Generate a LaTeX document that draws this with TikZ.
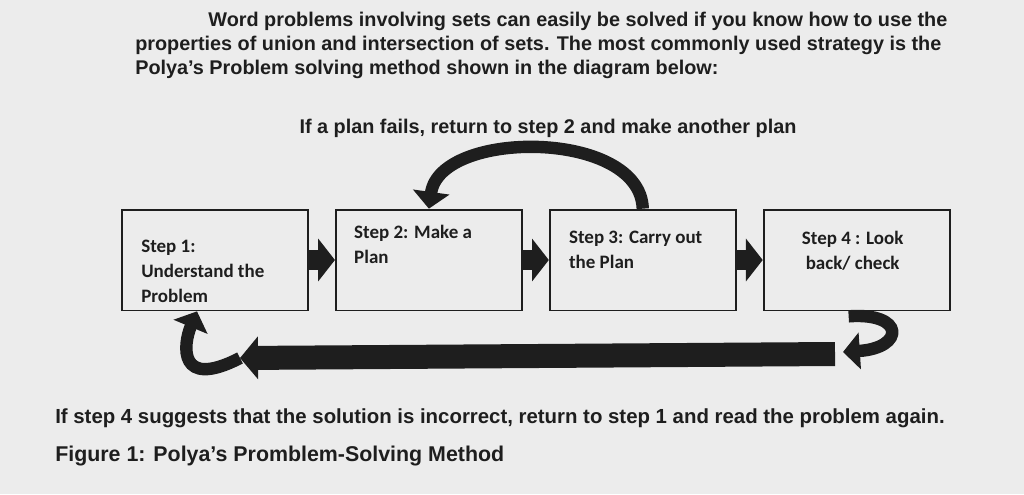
\documentclass[tikz,border=0pt]{standalone}
\usepackage{fontspec}
\setmainfont{Liberation Sans}
\newfontfamily\calibri{Carlito}
\usetikzlibrary{arrows.meta, positioning, calc}
\definecolor{ink}{HTML}{1E1E1E}
\definecolor{paper}{HTML}{ECECEC}
\tikzstyle{stepbox} = [rectangle, minimum width=4.65cm, minimum height=2.52cm, 
                       draw=ink, line width=1.3pt, inner sep=0pt]
\tikzstyle{steptext} = [font=\calibri\bfseries\fontsize{13.5}{17.7}\selectfont, text=ink,
                        align=left, inner sep=0pt, anchor=north west]
\tikzstyle{bodytext} = [font=\bfseries\fontsize{14.1}{17}\selectfont, text=ink, inner sep=0pt, align=left]
\tikzstyle{blockarrow} = [line width=0.52cm, draw=ink, -{Triangle[length=0.42cm, width=1.05cm]}]
\tikzstyle{retarrow} = [line width=0.6cm, draw=ink, -{Triangle[length=0.45cm, width=1.05cm]}]
\tikzstyle{looparrow} = [line width=0.31cm, draw=ink, -{Triangle[length=0.42cm, width=0.9cm]}]

\begin{document}
\begin{tikzpicture}[x=0.025cm, y=-0.025cm, node distance=0.65cm]
    \fill[paper] (0,0) rectangle (1024,494);

    % Intro paragraph
    \node[bodytext, anchor=north west] (intro) at (135,12)
        {\hspace*{52pt}Word problems involving sets can easily be solved if you know how to use the\\
         properties of union and intersection of sets. The most commonly used strategy is the\\
         Polya's Problem solving method shown in the diagram below:};
    \node[bodytext, anchor=base] (failnote) at (548,133) {If a plan fails, return to step 2 and make another plan};

    % Row of steps
    \node[stepbox] (s1) at (215,260) {};
    \node[stepbox, right=of s1] (s2) {};
    \node[stepbox, right=of s2] (s3) {};
    \node[stepbox, right=of s3] (s4) {};

    \node[steptext] (t1) at ($(s1.north west)+(20,31)$) {Step 1:\\Understand the\\Problem};
    \node[steptext] (t2) at ($(s2.north west)+(19,16)$) {Step 2: Make a\\Plan};
    \node[steptext] (t3) at ($(s3.north west)+(20,22)$) {Step 3: Carry out\\the Plan};
    \node[steptext, anchor=north, align=center] (t4) at ($(s4.north)+(-4,22)$) {Step 4 : Look\\back/ check};

    % Arrows between steps
    \draw[blockarrow] (s1) -- (s2);
    \draw[blockarrow] (s2) -- (s3);
    \draw[blockarrow] (s3) -- (s4);

    % Loop back to step 2
    \draw[looparrow] (s3.north) .. controls (640,129) and (440,129) .. (s2.north);

    % Loop back to step 1
    \coordinate (ret0) at (240,358);
    \coordinate (ret1) at (835,354);
    \draw[looparrow] ($(s4.south)+(-8,5)$) .. controls (905,312) and (905,348) .. ($(ret1)+(8,-2)$);
    \draw[retarrow] (ret1) -- (ret0);
    \draw[looparrow] (ret0) .. controls (178,390) and (183,345) .. ($(s1.south)+(-18,0)$);

    % Notes below
    \node[bodytext, anchor=base west, font=\bfseries\fontsize{14.5}{17}\selectfont] (againnote) at (55,423)
        {If step 4 suggests that the solution is incorrect, return to step 1 and read the problem again.};
    \node[bodytext, anchor=base west, font=\bfseries\fontsize{15.2}{17}\selectfont] (caption) at (55,461)
        {Figure 1: Polya's Promblem-Solving Method};
\end{tikzpicture}
\end{document}
